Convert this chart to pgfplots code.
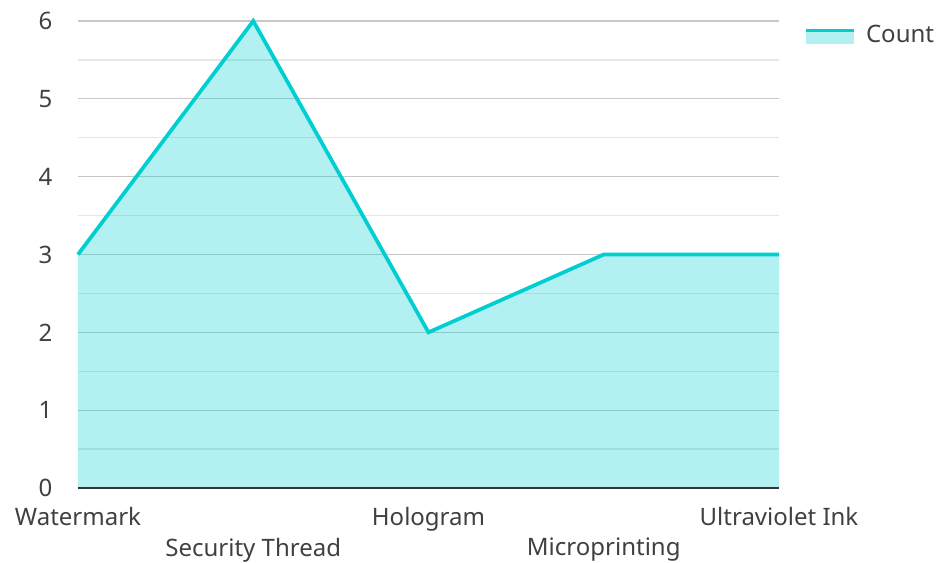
\documentclass[border=0pt]{standalone}
\usepackage{pgfplots}
\pgfplotsset{compat=1.18}
\usepackage{fontspec}
\setmainfont{Noto Sans}
\definecolor{cline}{HTML}{00CED1}
\definecolor{txt}{HTML}{404040}
\definecolor{gmaj}{HTML}{C8C8C8}
\definecolor{gmin}{HTML}{E6E6E6}
\begin{document}
\fontsize{18pt}{22pt}\selectfont
\begin{tikzpicture}
\useasboundingbox (-58.5pt,-55.5pt) rectangle (644.25pt,366pt);
\begin{axis}[
  at={(0pt,0pt)}, anchor=south west,
  scale only axis, width=525.75pt, height=350.25pt,
  xmin=0, xmax=4, ymin=0, ymax=6,
  axis x line*=bottom, axis y line*=left,
  x axis line style={-, draw=none},
  y axis line style={-, draw=none},
  xtick={0,2,4}, xticklabels={Watermark,Hologram,Ultraviolet Ink},
  extra x ticks={1,3}, extra x tick labels={Security Thread,Microprinting},
  extra x tick style={xticklabel style={yshift=-23pt}},
  ytick={0,1,2,3,4,5,6},
  minor y tick num=1,
  ymajorgrids, yminorgrids,
  major grid style={gmaj, line width=0.9pt},
  minor grid style={gmin, line width=0.9pt},
  major tick length=0pt, minor tick length=0pt,
  tick style={draw=none},
  /pgf/number format/assume math mode=true,
  ticklabel style={font=\fontsize{18pt}{22pt}\selectfont, text=txt},
  yticklabel style={anchor=east, xshift=-13pt},
  xticklabel style={anchor=north, yshift=-8.5pt},
  clip=false,
  legend style={at={(rel axis cs:1,1)}, anchor=north west, xshift=18.5pt, yshift=-1.25pt,
    draw=none, fill=none, inner sep=0pt, column sep=6pt, font=\fontsize{18pt}{22pt}\selectfont, text=txt},
  legend image code/.code={
    \path[fill=cline, fill opacity=0.3, draw=none] (0pt,-5.6pt) rectangle (36pt,5.6pt);
    \draw[cline, line width=2.6pt] (0pt,4.3pt)--(36pt,4.3pt);},
]
\addplot[draw=none, fill=cline, fill opacity=0.3, forget plot]
  coordinates {(0,3) (1,6) (2,2) (3,3) (4,3)} \closedcycle;
\addplot[cline, line width=2.8pt]
  coordinates {(0,3) (1,6) (2,2) (3,3) (4,3)};
\addlegendentry{Count}
\draw[black!80, line width=1.5pt] (rel axis cs:0,0) -- (rel axis cs:1,0);
\end{axis}
\end{tikzpicture}
\end{document}
